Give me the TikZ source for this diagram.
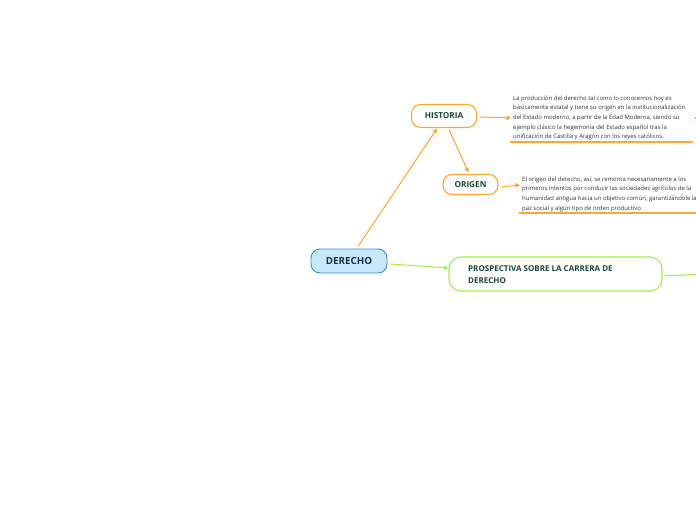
\documentclass[tikz,border=0pt]{standalone}
\usepackage{fontspec}
\setmainfont{Open Sans}
\usetikzlibrary{arrows.meta,calc}
\definecolor{orng}{HTML}{FBA82C}
\definecolor{lgreen}{HTML}{A2EF4B}
\definecolor{dblue}{HTML}{3C8DCB}
\definecolor{lblue}{HTML}{C6EAFB}
\definecolor{dgreen}{HTML}{17483A}
\definecolor{navy}{HTML}{1B2D4F}
\definecolor{btext}{HTML}{333333}
\tikzset{
  topic/.style={draw=orng, line width=1.1pt, fill=white, rounded corners=9pt, align=center, inner sep=0pt,
    font=\fontsize{8.2}{10}\selectfont\bfseries, text=dgreen},
  central/.style={draw=dblue, line width=0.9pt, fill=lblue, rounded corners=9pt, inner sep=0pt,
    font=\fontsize{9.8}{12}\selectfont\bfseries, text=navy},
  gtopic/.style={draw=lgreen, line width=1.1pt, fill=white, rounded corners=12pt, inner sep=0pt},
  bodytext/.style={inner sep=0pt, align=left, anchor=north west, text=btext,
    font=\fontsize{5.95}{9.6}\selectfont},
  oarrow/.style={draw=orng, line width=1pt, -{Triangle[length=4.5pt,width=4.5pt]}},
  garrow/.style={draw=lgreen, line width=1pt, -{Triangle[length=4.5pt,width=4.5pt]}},
  oline/.style={draw=orng, line width=1.3pt},
}
\begin{document}
\begin{tikzpicture}[x=1pt,y=-1pt]
\useasboundingbox (0,0) rectangle (696,520);
\fill[white] (0,0) rectangle (696,520);

\node[central, minimum width=76pt, minimum height=24pt] (derecho) at (349,261) {DERECHO};
\node[topic, minimum width=65pt, minimum height=23pt] (historia) at (444,116) {HISTORIA};
\node[topic, minimum width=55pt, minimum height=20pt] (origen) at (470.5,184.5) {ORIGEN};
\node[gtopic, minimum width=213pt, minimum height=34pt] (prosp) at (555.5,274) {};
\node[inner sep=0pt, anchor=west, align=left, text=dgreen, font=\fontsize{8}{11.5}\selectfont\bfseries] (prosptext) at (468,274.5)
  {PROSPECTIVA SOBRE LA CARRERA DE\\DERECHO};

\node[bodytext] (histtext) at (513,95.5) {La producción del derecho tal como lo conocemos hoy es\\
básicamente estatal y tiene su origen en la institucionalización\\
del Estado moderno, a partir de la Edad Moderna, siendo su\\
ejemplo clásico la hegemonía del Estado español tras la\\
unificación de Castilla y Aragón con los reyes católicos.};

\node[bodytext] (origtext) at (522,176.5) {El origen del derecho, así, se remonta necesariamente a los\\
primeros intentos por conducir las sociedades agrícolas de la\\
humanidad antigua hacia un objetivo común, garantizándole la\\
paz social y algún tipo de orden productivo.};

\coordinate (hl1) at (510,142);
\coordinate (hl2) at (693,142);
\coordinate (ol1) at (519,213);
\coordinate (ol2) at (696,213);
\coordinate (gend) at (696,274.5);
\coordinate (m1) at (695.5,116.5);
\coordinate (m2) at (695.5,119);

\draw[oline] (hl1) -- (hl2);
\draw[oline] (ol1) -- (ol2);
\draw[orng, line width=0.8pt] (m1) -- (m2);

\draw[oarrow] ([xshift=9pt,yshift=2pt]derecho.north) -- ([xshift=-7pt,yshift=-0.5pt]historia.south);
\draw[oarrow] ([xshift=5pt,yshift=-1.5pt]historia.south) -- ([xshift=-2pt,yshift=1.5pt]origen.north);
\draw[oarrow] ([xshift=2.5pt,yshift=-1pt]historia.east) -- ([xshift=-2pt]histtext.west);
\draw[oarrow] ([xshift=2.5pt,yshift=-2.5pt]origen.east) -- ([xshift=-2pt,yshift=-8.5pt]origtext.north west);
\draw[garrow] ([xshift=3pt,yshift=-3pt]derecho.east) -- ([yshift=6pt]prosp.west);
\draw[lgreen, line width=1.1pt] ([xshift=2pt,yshift=-2pt]prosp.east) -- (gend);
\end{tikzpicture}
\end{document}
